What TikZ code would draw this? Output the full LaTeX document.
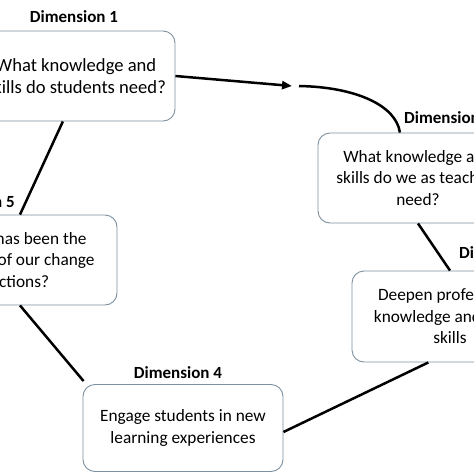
\documentclass[tikz,border=0pt]{standalone}
\usepackage{fontspec}
\setmainfont{Carlito}
\usetikzlibrary{calc,arrows.meta}
\definecolor{boxline}{RGB}{125,145,160}
\begin{document}
\begin{tikzpicture}[x=1pt,y=-1pt,
  dimbox/.style={draw=boxline, line width=0.9pt, rounded corners=12pt, fill=white, align=center, inner sep=0pt, font=\fontsize{17.3}{21.5}\selectfont},
  dimlabel/.style={font=\bfseries\fontsize{17}{20}\selectfont, inner sep=0pt},
  link/.style={line width=2.5pt, black}]
\useasboundingbox (0,0) rectangle (474,474);
\clip (0,0) rectangle (474,474);
\fill[white] (0,0) rectangle (474,474);
% boxes
\node[dimbox, font=\fontsize{18.6}{22}\selectfont, minimum width=198pt, minimum height=90pt] (b1) at (76,76) {What knowledge and\\skills do students need?};
\node[dimbox, minimum width=200pt, minimum height=90pt] (b2) at (418,178) {What knowledge and\\skills do we as teachers\\need?};
\node[dimbox, minimum width=196pt, minimum height=91pt] (b3) at (450,316.5) {Deepen professional\\knowledge and refine\\skills};
\node[dimbox, minimum width=200pt, minimum height=87pt] (b4) at (183,428) {Engage students in new\\learning experiences};
\node[dimbox, minimum width=194pt, minimum height=90pt] (b5) at (20,260) {What has been the\\impact of our change\\actions?};
% labels
\node[dimlabel] (l1) at (74,17) {Dimension 1};
\node[dimlabel, anchor=west] (l2) at (404,118) {Dimension 2};
\node[dimlabel, anchor=west] (l3) at (459,253) {Dimension 3};
\node[dimlabel] (l4) at (178,373) {Dimension 4};
\node[dimlabel, anchor=east] (l5) at (15,202) {Dimension 5};
% connectors
\coordinate (a1) at (292,86);
\coordinate (c1) at (299,86);
\draw[link, -{Triangle[length=10pt,width=8pt]}] (b1.east) -- (a1);
\draw[link] (c1) .. controls (355,87) and (396,105) .. ($(b2.north west)!0.41!(b2.north east)$);
\draw[link] ($(b2.south west)!0.5!(b2.south east)$) -- ($(b3.north west)!0.5!(b3.north east)$);
\draw[link] ($(b3.south west)!0.39!(b3.south east)$) -- ($(b4.east)+(0,4)$);
\draw[link] ($(b4.north west)+(1,-3)$) -- (b5.south);
\draw[link] (b5.north) -- ($(b1.south west)!0.434!(b1.south east)$);
\end{tikzpicture}
\end{document}
